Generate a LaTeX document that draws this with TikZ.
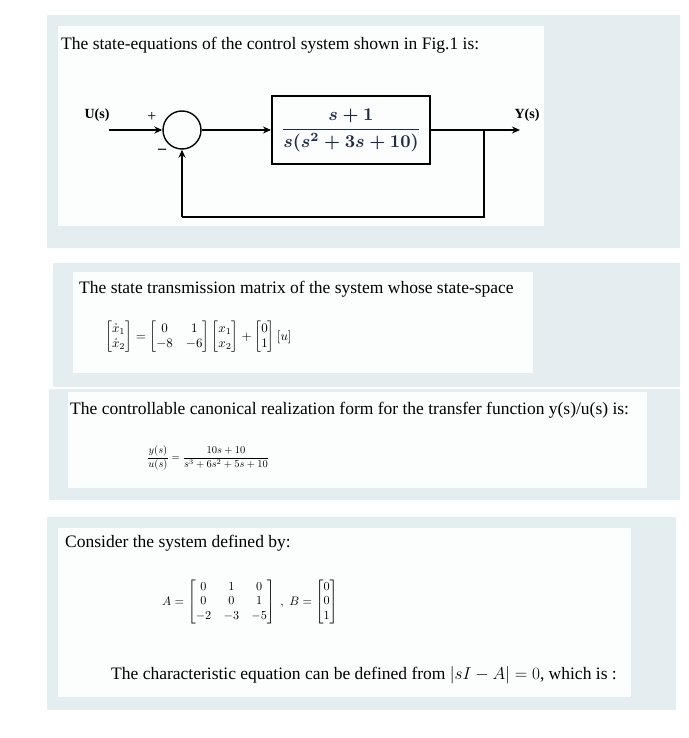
\documentclass[tikz,border=0pt]{standalone}
\usepackage{amsmath}
\usepackage{graphicx}
\usepackage{fontspec}
\setmainfont{Liberation Serif}
\usetikzlibrary{arrows.meta}
\definecolor{panelbg}{HTML}{E4EEF0}
\definecolor{inner}{HTML}{FCFDFD}
\definecolor{tfblue}{HTML}{1F2A44}
\tikzset{
  bgbox/.style={fill=panelbg,draw=none},
  wbox/.style={fill=inner,draw=none},
  txt/.style={anchor=west,inner sep=0pt,font=\fontsize{17.5}{20}\selectfont},
  eqn/.style={anchor=west,inner sep=0pt},
  sig/.style={line width=1.6pt,-{Stealth[length=8pt,width=7pt]}},
  wire/.style={line width=1.6pt}
}
\begin{document}
\begin{tikzpicture}[x=1pt,y=-1pt]
\useasboundingbox (0,0) rectangle (688,738);
\fill[white] (0,0) rectangle (688,738);
% panels
\fill[bgbox] (47,15) rectangle (680,248);
\fill[wbox] (58,26) rectangle (544,226);
\fill[bgbox] (53,263) rectangle (680,387);
\fill[wbox] (73,272) rectangle (533,373);
\fill[bgbox] (49,389) rectangle (680,500);
\fill[wbox] (68,392) rectangle (647,488);
\fill[bgbox] (47,517) rectangle (676,710);
\fill[wbox] (58,528) rectangle (631,697);
% panel 1
\node[txt] (t1) at (61,45) {The state-equations of the control system shown in Fig.1 is:};
\node[font=\bfseries\fontsize{14}{16}\selectfont] (u) at (97,115) {U(s)};
\coordinate (uin) at (109,130);
\node[circle,draw,line width=1.4pt,minimum size=38pt,inner sep=0pt] (sum) at (182,130) {};
\node[font=\fontsize{16}{16}\selectfont] (plus) at (152,117) {+};
\node[font=\bfseries\fontsize{16}{16}\selectfont] (minus) at (162,151) {\textendash};
\node[draw,line width=2pt,minimum width=158pt,minimum height=68pt,inner sep=0pt] (G) at (351,130)
  {\color{tfblue}\scalebox{1.8}{$\boldsymbol{\dfrac{s+1}{s(s^2+3s+10)}}$}};
\node[font=\bfseries\fontsize{14}{16}\selectfont] (y) at (527,115) {Y(s)};
\coordinate (yout) at (520,130);
\coordinate (br) at (484,130);
\coordinate (fb1) at (484,217);
\coordinate (fb2) at (182,217);
\draw[sig] (uin) -- (sum);
\draw[sig] (sum) -- (G);
\draw[sig] (G) -- (yout);
\draw[wire] (br) -- (fb1) -- (fb2);
\draw[sig] (fb2) -- (sum);
% panel 2
\node[txt] (t2) at (79,289) {The state transmission matrix of the system whose state-space};
\node[eqn] (eq2) at (105,337)
  {\scalebox{1.3}{$\begin{bmatrix}\dot{x}_1\\ \dot{x}_2\end{bmatrix}=\begin{bmatrix}0&1\\-8&-6\end{bmatrix}\begin{bmatrix}x_1\\x_2\end{bmatrix}+\begin{bmatrix}0\\1\end{bmatrix}[u]$}};
% panel 3
\node[txt] (t3) at (70,410) {The controllable canonical realization form for the transfer function y(s)/u(s) is:};
\node[eqn] (eq3) at (147,458)
  {\scalebox{1.05}{$\dfrac{y(s)}{u(s)}=\dfrac{10s+10}{s^3+6s^2+5s+10}$}};
% panel 4
\node[txt] (t4) at (65,543) {Consider the system defined by:};
\node[eqn] (eq4) at (162,602)
  {\scalebox{1.22}{$A=\begin{bmatrix}0&1&0\\0&0&1\\-2&-3&-5\end{bmatrix}\;,\;B=\begin{bmatrix}0\\0\\1\end{bmatrix}$}};
\node[txt] (t5) at (111,675) {The characteristic equation can be defined from $|sI-A|=0$, which is :};
\end{tikzpicture}
\end{document}
